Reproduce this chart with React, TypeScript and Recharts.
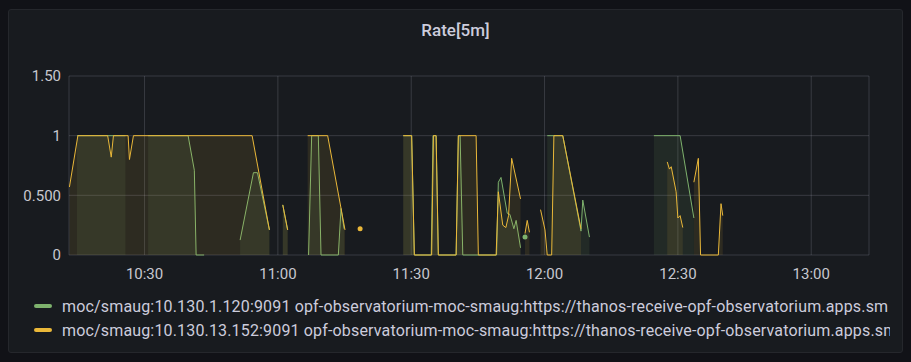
import { ComposedChart, Area, Scatter, XAxis, YAxis, CartesianGrid } from 'recharts';

// minutes after 10:00, null value = gap in the series
const greenTimes = [
  14.8, 25.7, 28,
  30.8, 39.8, 41.2, 41.6, 43.4, 47,
  51.5, 54.5, 55.4, 58.1, 60,
  61.1, 62.2, 64,
  66.9, 67.6, 69.1, 69.7, 73.6, 74.2, 74.9, 80,
  88.2, 90.1, 90.7, 94.5, 94.9, 95.6, 96.1, 100.1, 100.6, 101.0, 101.6, 109.2, 109.6, 110.2, 111.6, 112.2, 113.1, 113.6, 114.6, 117,
  120.6, 124.1, 128.2, 128.6, 130.1, 137,
  144.6, 150.5, 153.6,
];
const greenValues = [
  1, 1, null,
  1, 1, 0.71, 0, 0, null,
  0.125, 0.69, 0.69, 0.21, null,
  0.42, 0.21, null,
  0, 1, 1, 0, 0, 0.39, 0.22, null,
  1, 1, 0, 0, 1, 1, 0, 0, 1, 1, 0, 0, 0.61, 0.65, 0.35, 0.34, 0.22, 0.29, 0.06, null,
  1, 1, 0.2, 0.46, 0.15, null,
  1, 1, 0.31,
];

const yellowTimes = [
  13.1, 15.0, 21.7, 22.5, 23.0, 26.3, 26.6, 27.5, 54.2, 58.1, 60,
  61.1, 62.2, 64,
  66.7, 71.2, 75.1, 80,
  88.2, 90.1, 90.7, 94.6, 95.0, 95.6, 96.1, 100.1, 100.6, 104.6, 105.1, 109.1, 109.6, 110.6, 111.3, 111.9, 112.6, 114.6, 115.2,
  115.6, 116.1, 116.6, 118,
  119.1, 120.1, 120.6, 121.6, 122.1, 124.1, 128.2, 137,
  147.6, 148.1, 148.5, 149.6, 150.0, 150.5, 151.1, 152,
  153.6, 154.6, 155.1, 159.1, 159.7, 160.1,
];
const yellowValues = [
  0.57, 1, 1, 0.82, 1, 1, 0.8, 1, 1, 0.21, null,
  0.42, 0.21, null,
  1, 1, 0.21, null,
  1, 1, 0, 0, 1, 1, 0, 0, 1, 1, 0, 0, 0.53, 0.25, 0.23, 0.33, 0.81, 0.47, null,
  0.18, 0.29, 0.19, null,
  0.38, 0.21, 0, 0, 1, 1, 0.22, null,
  0.78, 0.72, 0.74, 0.53, 0.31, 0.33, 0.23, null,
  0.61, 0.81, 0, 0, 0.43, 0.33,
];

// lone samples drawn as points
const greenDotTimes = [115.6];
const greenDotValues = [0.15];
const yellowDotTimes = [78.5];
const yellowDotValues = [0.22];

const xTicks = [30, 60, 90, 120, 150, 180];
const xTickLabels = ['10:30', '11:00', '11:30', '12:00', '12:30', '13:00'];
const yTicks = [0, 0.5, 1, 1.5];
const yTickLabels = ['0', '0.500', '1', '1.50'];

const seriesNames = [
  'moc/smaug:10.130.1.120:9091 opf-observatorium-moc-smaug:https://thanos-receive-opf-observatorium.apps.sm',
  'moc/smaug:10.130.13.152:9091 opf-observatorium-moc-smaug:https://thanos-receive-opf-observatorium.apps.sm',
];

const GREEN = '#7eb26d';
const YELLOW = '#eab839';
const FONT = 'Roboto, "Noto Sans", sans-serif';

const rows = (times: number[], values: (number | null)[]) => times.map((t, i) => ({ t, v: values[i] }));

export default function App() {
  const green = rows(greenTimes, greenValues);
  const yellow = rows(yellowTimes, yellowValues);
  const greenDots = rows(greenDotTimes, greenDotValues);
  const yellowDots = rows(yellowDotTimes, yellowDotValues);

  const tickStyle = { fill: '#c7c8cf', fontSize: 15, fontFamily: FONT };

  return (
    <div style={{ position: 'fixed', left: 0, top: 0, width: 911, height: 362, background: '#111217', overflow: 'hidden' }}>
      <div
        style={{
          position: 'absolute', left: 8, top: 9, width: 893, height: 342,
          background: '#181b1f', border: '1px solid #25272c', borderRadius: 3,
        }}
      />
      <div
        style={{
          position: 'absolute', left: 0, top: 20, width: 911, textAlign: 'center',
          color: '#ccccdc', fontFamily: FONT, fontSize: 17, fontWeight: 500,
        }}
      >
        Rate[5m]
      </div>
      <div style={{ position: 'absolute', left: 0, top: 0 }}>
        <ComposedChart width={911} height={300} margin={{ top: 76, right: 42, bottom: 20, left: 19 }}>
          <CartesianGrid stroke="rgba(204,204,220,0.18)" />
          <XAxis
            dataKey="t"
            type="number"
            domain={[13, 193]}
            ticks={xTicks}
            tickFormatter={(v: number) => xTickLabels[xTicks.indexOf(v)]}
            axisLine={false}
            tickLine={false}
            tickSize={0}
            tickMargin={13}
            height={25}
            tick={tickStyle}
            allowDataOverflow
          />
          <YAxis
            dataKey="v"
            type="number"
            domain={[0, 1.5]}
            ticks={yTicks}
            tickFormatter={(v: number) => yTickLabels[yTicks.indexOf(v)]}
            axisLine={false}
            tickLine={false}
            tickSize={0}
            tickMargin={8}
            width={50}
            tick={tickStyle}
          />
          <Area
            data={green}
            dataKey="v"
            type="linear"
            stroke={GREEN}
            strokeWidth={1}
            fill={GREEN}
            fillOpacity={0.1}
            dot={false}
            activeDot={false}
            connectNulls={false}
            isAnimationActive={false}
          />
          <Area
            data={yellow}
            dataKey="v"
            type="linear"
            stroke={YELLOW}
            strokeWidth={1}
            fill={YELLOW}
            fillOpacity={0.1}
            dot={false}
            activeDot={false}
            connectNulls={false}
            isAnimationActive={false}
          />
          <Scatter data={greenDots} dataKey="v" fill={GREEN} shape={(p: any) => <circle cx={p.cx} cy={p.cy} r={2.5} fill={GREEN} />} isAnimationActive={false} />
          <Scatter data={yellowDots} dataKey="v" fill={YELLOW} shape={(p: any) => <circle cx={p.cx} cy={p.cy} r={2.5} fill={YELLOW} />} isAnimationActive={false} />
        </ComposedChart>
      </div>
      <div style={{ position: 'absolute', left: 34, top: 294, width: 856, overflow: 'hidden', fontFamily: FONT, fontSize: 16, letterSpacing: 0.16, color: '#ccccdc' }}>
        {seriesNames.map((name, i) => (
          <div key={name} style={{ display: 'flex', alignItems: 'center', height: 24, whiteSpace: 'nowrap' }}>
            <span style={{ display: 'inline-block', width: 18, height: 4, borderRadius: 2, background: i === 0 ? GREEN : YELLOW, marginRight: 10, flex: 'none' }} />
            <span>{name}</span>
          </div>
        ))}
      </div>
    </div>
  );
}
